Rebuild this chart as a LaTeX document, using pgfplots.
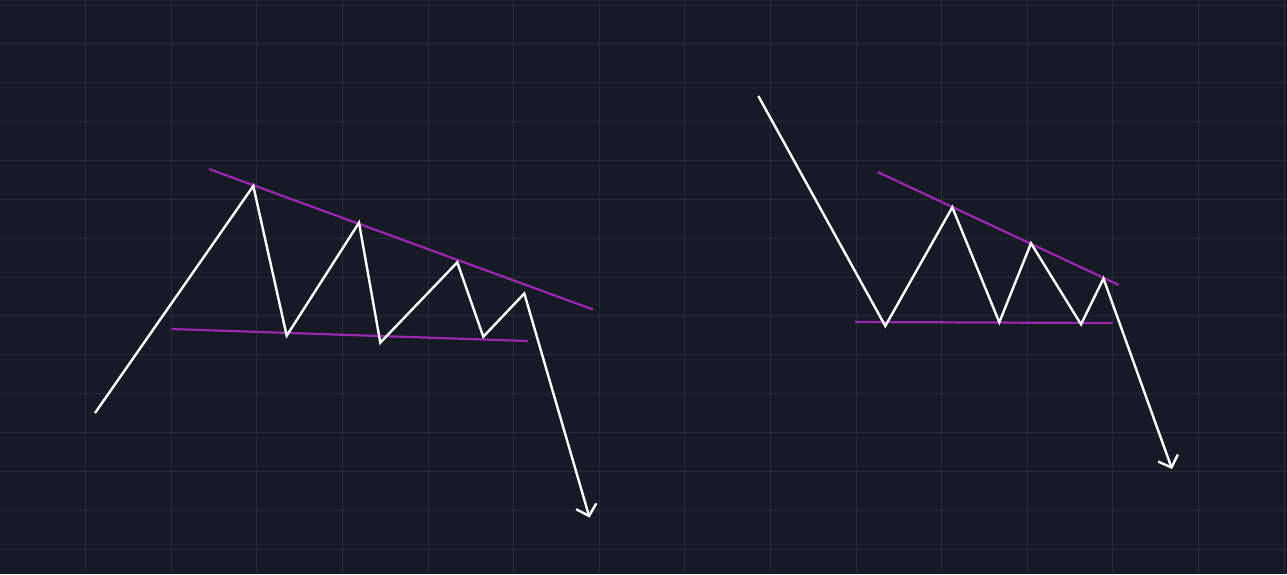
\documentclass[border=0pt]{standalone}
\usepackage{pgfplots}
\pgfplotsset{compat=1.18}
\usetikzlibrary{arrows.meta}

\definecolor{bgcol}{HTML}{161A25}
\definecolor{gridcol}{HTML}{262A36}
\definecolor{trendcol}{HTML}{9C27B0}

\begin{document}
\begin{tikzpicture}
  \begin{axis}[
    name=ax,
    scale only axis,
    width=1287pt, height=574pt,
    xmin=0, xmax=1287, ymin=0, ymax=574,
    y dir=reverse,
    axis background/.style={fill=bgcol},
    axis line style={draw=none},
    xtick={85.6,171.2,...,1284}, ytick={5,43.86,...,560},
    xticklabels={}, yticklabels={},
    major tick length=0pt,
    grid=major,
    major grid style={draw=gridcol, line width=1pt},
  ]
  % left: descending triangle breaking down
  \addplot[trendcol, line width=2.2pt] coordinates {(209,169) (593,309.5)};
  \addplot[trendcol, line width=2.2pt] coordinates {(171.5,329) (528,341)};
  \addplot[white, line width=2.4pt, -{Straight Barb[length=10pt,width=21pt]}] coordinates {
    (95,413) (253.3,186) (286.7,335.7) (359,222.7) (380.3,342.7)
    (457.3,262.3) (483.3,336.7) (524.3,293.5) (589.5,517.5)
  };

  % right: descending triangle after a decline
  \addplot[trendcol, line width=2.2pt] coordinates {(877.7,172) (1118.7,285)};
  \addplot[trendcol, line width=2.2pt] coordinates {(855,322) (1112.7,323)};
  \addplot[white, line width=2.4pt, -{Straight Barb[length=10pt,width=21pt]}] coordinates {
    (758.3,96) (885.3,326) (952.3,207.3) (999.3,322.3) (1031,243.3)
    (1081,324.3) (1103.5,278.5) (1172,469)
  };
  \end{axis}
  \pgfresetboundingbox
  \path (ax.south west) rectangle (ax.north east);
\end{tikzpicture}
\end{document}
